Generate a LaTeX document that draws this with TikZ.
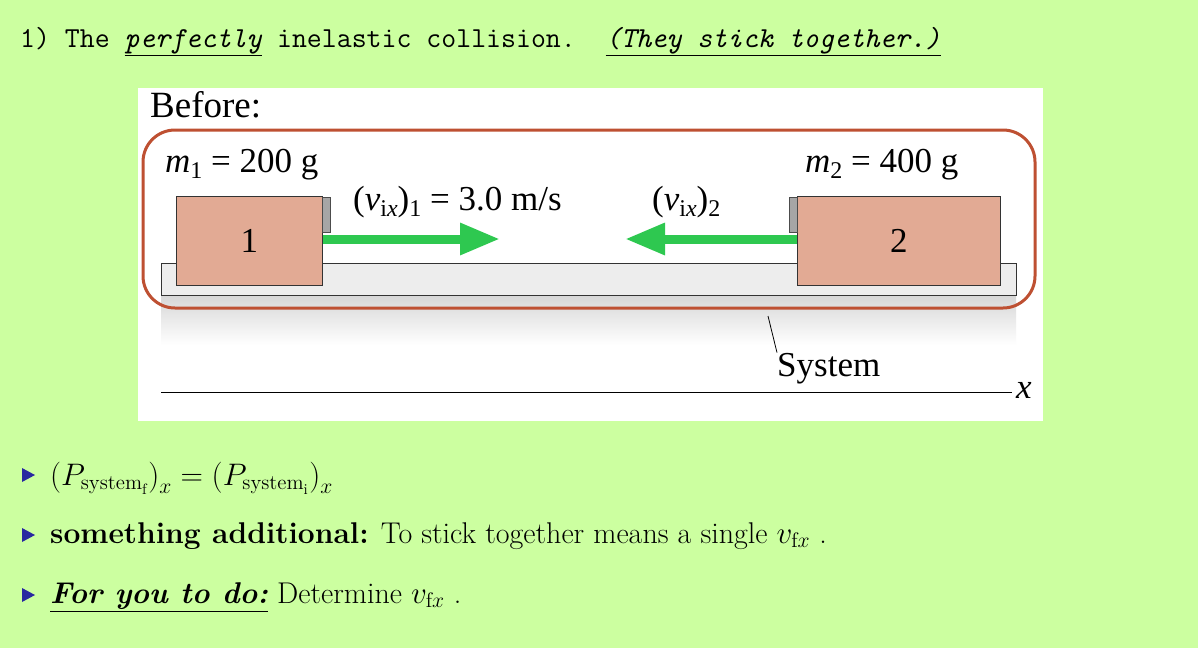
\documentclass[tikz,border=0pt]{standalone}
\usepackage{fontspec}
\newfontfamily\tms{Liberation Serif}
\usetikzlibrary{arrows.meta}
\definecolor{bg}{RGB}{204,255,160}
\definecolor{sysred}{RGB}{190,80,50}
\definecolor{blk}{RGB}{226,170,148}
\definecolor{arr}{RGB}{46,200,80}
\definecolor{bul}{RGB}{40,40,160}
\newcommand{\sbs}[1]{\raisebox{-6pt}{\fontsize{24}{24}\selectfont #1}}
\tikzset{x=1pt,y=-1pt,
 block/.style={draw=black!80,fill=blk,line width=0.8pt},
 pad/.style={draw=black!70,fill=black!35,line width=0.5pt},
 vel/.style={arr,line width=9pt,-{Triangle[length=40pt,width=30pt]}},
 lab/.style={font=\tms\fontsize{35}{38}\selectfont,anchor=base west,inner sep=0},
 bt/.style={font=\fontsize{20}{24}\selectfont,anchor=base west,inner sep=0},
 mono/.style={font=\ttfamily\fontsize{29}{32}\selectfont,anchor=base west,inner sep=0}}
\begin{document}
\begin{tikzpicture}
\useasboundingbox[fill=bg] (0,0) rectangle (1198,648);
% title
\node[mono] (t1) at (20,47) {1) The \underline{\textit{perfectly}} inelastic collision.\ \ \underline{\textit{(They stick together.)}}};
% image
\fill[white] (138,88) rectangle (1043,421);
\shade[top color=black!16,bottom color=white] (161,295) rectangle (1016,345);
\node[lab,font=\tms\fontsize{37}{40}\selectfont] (bef) at (150,117) {Before:};
\draw[draw=black!80,fill=black!7,line width=0.8pt] (161,263) rectangle (1016,295);
\node[block,minimum width=146pt,minimum height=89pt,anchor=north west,font=\tms\fontsize{35}{38}\selectfont] (b1) at (176,196) {1};
\node[block,minimum width=203pt,minimum height=89pt,anchor=north west,font=\tms\fontsize{35}{38}\selectfont] (b2) at (797,196) {2};
\draw[pad] (322,197) rectangle (330,232);
\draw[pad] (789,197) rectangle (797,232);
\coordinate (a1e) at (500,239);
\coordinate (a2e) at (625,239);
\draw[vel] (b1.east |- a1e) -- (a1e);
\draw[vel] (b2.west |- a2e) -- (a2e);
\draw[sysred,line width=3pt,rounded corners=32pt] (143,130) rectangle (1035,308);
\node[lab] (m1) at (165,172) {\textit{m}\sbs{1} = 200 g};
\node[lab] (m2) at (805,172) {\textit{m}\sbs{2} = 400 g};
\node[lab] (v1) at (353,210) {(\textit{v}\sbs{i\textit{x}})\sbs{1} = 3.0 m/s};
\node[lab] (v2) at (652,210) {(\textit{v}\sbs{i\textit{x}})\sbs{2}};
\node[lab] (sys) at (777,376) {System};
\coordinate (sl) at (768,316);
\draw[line width=0.8pt] (sl) -- (sys.north west);
\coordinate (ax0) at (161,392);
\coordinate (ax1) at (1012,392);
\draw[line width=1pt] (ax0) -- (ax1);
\node[lab,anchor=west] (xl) at (1016,390) {\textit{x}};
% bullets
\foreach \yy/\nm in {475/p1,535/p2,595/p3}{
 \fill[bul] (22,\yy-7) -- (35,\yy) -- (22,\yy+7) -- cycle;}
\node[bt] (l1) at (50,485) {\scalebox{1.5}{$\bigl(P_{\mathrm{system}_\mathrm{f}}\bigr)_x=\bigl(P_{\mathrm{system}_\mathrm{i}}\bigr)_x$}};
\node[bt] (l2) at (50,543) {\scalebox{1.5}{\textbf{something additional:} To stick together means a single $v_{\mathrm{f}x}$ .}};
\node[bt] (l3) at (50,603) {\scalebox{1.5}{\underline{\textbf{\textit{For you to do:}}} Determine $v_{\mathrm{f}x}$ .}};
\end{tikzpicture}
\end{document}
